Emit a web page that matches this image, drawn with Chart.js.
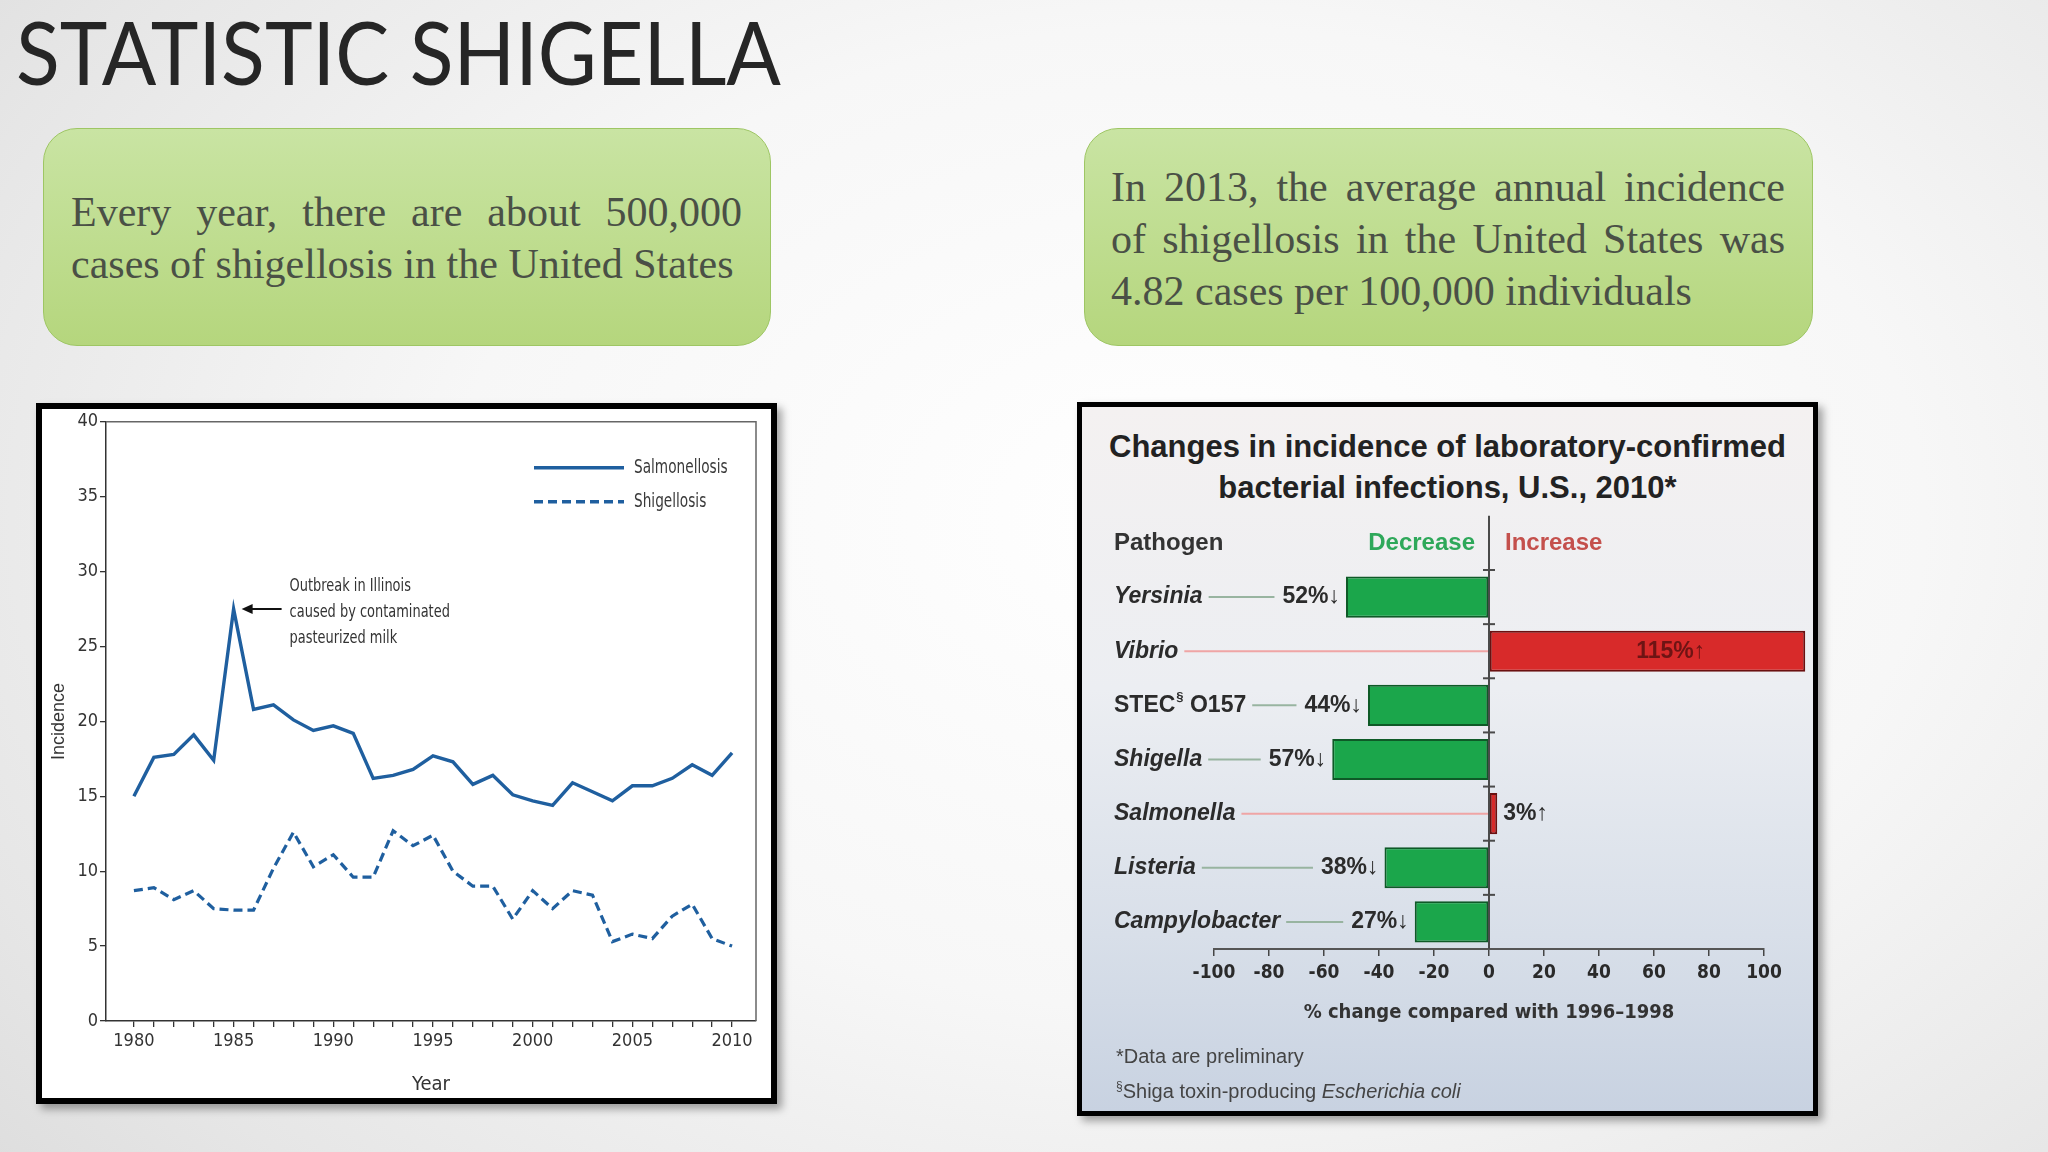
<!DOCTYPE html>
<html>
<head>
<meta charset="utf-8">
<title>Statistic Shigella</title>
<script src="https://cdn.jsdelivr.net/npm/chart.js@4.4.0/dist/chart.umd.min.js"></script>
<style>
  html, body { margin: 0; padding: 0; }
  body {
    width: 2048px; height: 1152px; overflow: hidden; position: relative;
    background: radial-gradient(ellipse 80% 95% at 58% 45%, #ffffff 0%, #f7f7f7 45%, #e6e6e6 80%, #dadada 100%);
  }
  #title {
    position: absolute; left: 16px; top: 8px;
    font: 400 87px Lato, 'Open Sans', sans-serif; line-height: 87px;
    color: #262626; white-space: nowrap; transform-origin: left top;
  }
  .box {
    position: absolute; box-sizing: border-box; border-radius: 34px;
    border: 1.5px solid #9ec664;
    background: linear-gradient(#c9e4a3, #b5d67d);
  }
  .txt {
    position: absolute; font: 42px 'Liberation Serif', 'Times New Roman', serif;
    line-height: 52px; color: #4a5046;
  }
  .txt div { white-space: nowrap; }
  .txt .j { text-align: justify; text-align-last: justify; white-space: normal; }
  .frame {
    position: absolute; box-sizing: border-box; border: 6px solid #000;
    box-shadow: 5px 5px 8px rgba(0,0,0,0.35);
  }
  #leftFrame { left: 36px; top: 403px; width: 741px; height: 701px; background: #fff; }
  #rightFrame {
    left: 1077px; top: 402px; width: 741px; height: 714px; border-width: 5px;
    background: linear-gradient(#f4f1f1 0%, #eceef2 40%, #d8dfe9 75%, #c8d2e1 100%);
  }
  canvas { position: absolute; left: 0; top: 0; }
  #bactTitle {
    position: absolute; left: 0; top: 19px; width: 100%; text-align: center;
    font: bold 31px 'Liberation Sans', Arial, sans-serif; line-height: 41px; color: #222;
  }
  #notes {
    position: absolute; left: 34px; top: 634px;
    font: 20px 'Liberation Sans', sans-serif; line-height: 30px; color: #444;
  }
  #notes sup { font-size: 12px; }
</style>
</head>
<body>
<div id="title">STATISTIC SHIGELLA</div>

<div class="box" style="left:43px; top:128px; width:728px; height:218px;"></div>
<div class="txt" style="left:71px; top:186px; width:671px;">
  <div class="j">Every year, there are about 500,000</div>
  <div>cases of shigellosis in the United States</div>
</div>

<div class="box" style="left:1084px; top:128px; width:729px; height:218px;"></div>
<div class="txt" style="left:1111px; top:161px; width:674px;">
  <div class="j">In 2013, the average annual incidence</div>
  <div class="j">of shigellosis in the United States was</div>
  <div>4.82 cases per 100,000 individuals</div>
</div>

<div class="frame" id="leftFrame">
  <canvas id="incidenceChart" width="729" height="689"></canvas>
</div>

<div class="frame" id="rightFrame">
  <div id="bactTitle">Changes in incidence of laboratory-confirmed<br>bacterial infections, U.S., 2010*</div>
  <canvas id="changeChart" width="731" height="704"></canvas>
  <div id="notes">*Data are preliminary<br><sup>§</sup>Shiga toxin-producing <i>Escherichia coli</i></div>
</div>

<script>
// incidence per 100,000
const years = [1980, 1981, 1982, 1983, 1984, 1985, 1986, 1987, 1988, 1989,
               1990, 1991, 1992, 1993, 1994, 1995, 1996, 1997, 1998, 1999,
               2000, 2001, 2002, 2003, 2004, 2005, 2006, 2007, 2008, 2009, 2010];
const salmonellosis = [15.0, 17.6, 17.8, 19.1, 17.4, 27.5, 20.8, 21.1, 20.1, 19.4,
                       19.7, 19.2, 16.2, 16.4, 16.8, 17.7, 17.3, 15.8, 16.4, 15.1,
                       14.7, 14.4, 15.9, 15.3, 14.7, 15.7, 15.7, 16.2, 17.1, 16.4, 17.9];
const shigellosis = [8.7, 8.9, 8.1, 8.7, 7.5, 7.4, 7.4, 10.2, 12.6, 10.3,
                     11.1, 9.6, 9.6, 12.7, 11.7, 12.4, 10.0, 9.0, 9.0, 6.8,
                     8.7, 7.5, 8.7, 8.4, 5.3, 5.8, 5.5, 7.0, 7.8, 5.5, 5.0];
const yearLabels = [1980, 1985, 1990, 1995, 2000, 2005, 2010];
const incidenceTicks = [0, 5, 10, 15, 20, 25, 30, 35, 40];
const outbreakNote = ['Outbreak in Illinois', 'caused by contaminated', 'pasteurized milk'];

// % change 2010 vs 1996-1998
const pathogens = ['Yersinia', 'Vibrio', 'STEC§ O157', 'Shigella', 'Salmonella', 'Listeria', 'Campylobacter'];
const italicName = [true, true, false, true, true, true, true];
const changePct = [-52, 115, -44, -57, 3, -38, -27];
const changeTicks = [-100, -80, -60, -40, -20, 0, 20, 40, 60, 80, 100];

const NARROW = "'Liberation Sans Narrow', 'DejaVu Sans Condensed', 'Liberation Sans', sans-serif";
const ARIAL = "'Liberation Sans', Arial, sans-serif";
const BLUE = '#1f5f9f';

// fit the slide title to its width
const t = document.getElementById('title');
t.style.transform = 'scaleX(' + (765 / t.getBoundingClientRect().width) + ')';

Chart.defaults.animation = false;

// condensed text, like the narrow face of the original figure
function narrowText(ctx, text, x, y) {
  ctx.save();
  ctx.translate(x, y);
  ctx.scale(0.8, 1);
  ctx.fillText(text, 0, 0);
  ctx.restore();
}

// ---------- left chart ----------
const incidenceDecor = {
  id: 'incidenceDecor',
  afterDatasetsDraw(chart) {
    const {ctx, chartArea, scales: {x, y}} = chart;
    ctx.save();
    // thin frame on top and right
    ctx.strokeStyle = '#666';
    ctx.lineWidth = 1.5;
    ctx.beginPath();
    ctx.moveTo(chartArea.left, chartArea.top);
    ctx.lineTo(chartArea.right, chartArea.top);
    ctx.lineTo(chartArea.right, chartArea.bottom);
    ctx.stroke();

    // legend
    ctx.font = '19px ' + NARROW;
    ctx.textBaseline = 'middle';
    ctx.textAlign = 'left';
    chart.data.datasets.forEach((ds, i) => {
      const ly = chartArea.top + 46 + i * 34;
      ctx.strokeStyle = ds.borderColor;
      ctx.lineWidth = 3.5;
      ctx.setLineDash(ds.borderDash || []);
      ctx.beginPath();
      ctx.moveTo(chartArea.right - 222, ly);
      ctx.lineTo(chartArea.right - 132, ly);
      ctx.stroke();
      ctx.setLineDash([]);
      ctx.fillStyle = '#3a3a3a';
      narrowText(ctx, ds.label, chartArea.right - 122, ly);
    });

    // outbreak annotation
    const peak = salmonellosis.indexOf(Math.max(...salmonellosis));
    const px = x.getPixelForValue(years[peak]);
    const py = y.getPixelForValue(salmonellosis[peak]);
    ctx.strokeStyle = '#111';
    ctx.fillStyle = '#111';
    ctx.lineWidth = 2;
    ctx.beginPath();
    ctx.moveTo(px + 16, py);
    ctx.lineTo(px + 48, py);
    ctx.stroke();
    ctx.beginPath();
    ctx.moveTo(px + 8, py);
    ctx.lineTo(px + 19, py - 5);
    ctx.lineTo(px + 19, py + 5);
    ctx.closePath();
    ctx.fill();
    ctx.fillStyle = '#333';
    ctx.font = '18px ' + NARROW;
    outbreakNote.forEach((line, i) => narrowText(ctx, line, px + 56, py - 23 + i * 26));
    ctx.restore();
  }
};

new Chart(document.getElementById('incidenceChart'), {
  type: 'line',
  data: {
    datasets: [
      {
        label: 'Salmonellosis',
        data: years.map((yr, i) => ({x: yr, y: salmonellosis[i]})),
        borderColor: BLUE, borderWidth: 3.4, pointRadius: 0, tension: 0
      },
      {
        label: 'Shigellosis',
        data: years.map((yr, i) => ({x: yr, y: shigellosis[i]})),
        borderColor: BLUE, borderWidth: 3.2, borderDash: [9, 5], pointRadius: 0, tension: 0
      }
    ]
  },
  options: {
    responsive: false,
    layout: {padding: {top: 12, right: 15, bottom: 0, left: 0}},
    plugins: {legend: {display: false}, tooltip: {enabled: false}},
    scales: {
      x: {
        type: 'linear', min: 1978.6, max: 2011.2,
        afterFit: (s) => { s.height = 77; },
        afterBuildTicks: (s) => {
          s.ticks = s.ticks.filter(tk => tk.value >= years[0] && tk.value <= years[years.length - 1]);
        },
        ticks: {
          stepSize: 1, includeBounds: false, autoSkip: false, maxRotation: 0,
          padding: 4, color: '#333', font: {family: NARROW, size: 18},
          callback: (v) => yearLabels.includes(v) ? String(v) : ''
        },
        grid: {drawOnChartArea: false, tickLength: 6, color: '#333', lineWidth: 1.3},
        border: {color: '#333', width: 1.5},
        title: {display: true, text: 'Year', color: '#333', font: {family: NARROW, size: 20}, padding: {top: 0, bottom: 1}}
      },
      y: {
        min: incidenceTicks[0], max: incidenceTicks[incidenceTicks.length - 1],
        afterFit: (s) => { s.width = 64; },
        afterBuildTicks: (s) => { s.ticks = incidenceTicks.map(v => ({value: v})); },
        ticks: {padding: 2, color: '#333', font: {family: NARROW, size: 18}},
        grid: {drawOnChartArea: false, tickLength: 6, color: '#333', lineWidth: 1.3},
        border: {color: '#333', width: 1.5},
        title: {display: true, text: 'Incidence', color: '#333', font: {family: ARIAL, size: 18}, padding: {top: 6, bottom: 0}}
      }
    }
  },
  plugins: [incidenceDecor]
});

// ---------- right chart ----------
function drawName(ctx, name, italic, x, y) {
  const base = (italic ? 'italic ' : '') + 'bold 23px ' + ARIAL;
  ctx.font = base;
  ctx.textAlign = 'left';
  ctx.fillStyle = '#2b2b2b';
  const parts = name.split('§');
  ctx.fillText(parts[0], x, y);
  let cx = x + ctx.measureText(parts[0]).width;
  if (parts.length > 1) {
    ctx.font = 'bold 13px ' + ARIAL;
    ctx.fillText('§', cx + 1, y - 8);
    cx += ctx.measureText('§').width + 1;
    ctx.font = base;
    ctx.fillText(parts[1], cx, y);
    cx += ctx.measureText(parts[1]).width;
  }
  return cx;
}

const changeDecor = {
  id: 'changeDecor',
  beforeDatasetsDraw(chart) {
    const {ctx, chartArea, scales: {x, y}} = chart;
    const zeroX = x.getPixelForValue(0);
    const nameX = chartArea.left - 100;
    ctx.save();
    ctx.textBaseline = 'middle';
    pathogens.forEach((name, i) => {
      const cy = y.getPixelForValue(i);
      const v = changePct[i];
      const end = x.getPixelForValue(v);
      const nameEnd = drawName(ctx, name, italicName[i], nameX, cy);
      ctx.lineWidth = 2;
      if (v < 0) {
        ctx.font = 'bold 23px ' + ARIAL;
        const lw = ctx.measureText(Math.abs(v) + '%↓').width;
        ctx.strokeStyle = '#98b4a0';
        ctx.beginPath();
        ctx.moveTo(nameEnd + 6, cy);
        ctx.lineTo(end - 6 - lw - 8, cy);
        ctx.stroke();
      } else {
        ctx.strokeStyle = '#efa5a5';
        ctx.beginPath();
        ctx.moveTo(nameEnd + 6, cy);
        ctx.lineTo(zeroX, cy);
        ctx.stroke();
      }
    });
    ctx.restore();
  },
  afterDatasetsDraw(chart) {
    const {ctx, chartArea, scales: {x, y}} = chart;
    const band = y.getPixelForValue(1) - y.getPixelForValue(0);
    const zeroX = x.getPixelForValue(0);
    const nameX = chartArea.left - 100;
    ctx.save();
    // zero line with row marks
    ctx.strokeStyle = '#4a4a4a';
    ctx.lineWidth = 2;
    ctx.beginPath();
    ctx.moveTo(zeroX, chartArea.top - band);
    ctx.lineTo(zeroX, chartArea.bottom);
    ctx.stroke();
    pathogens.forEach((_, i) => {
      const yy = y.getPixelForValue(i - 0.5);
      ctx.beginPath();
      ctx.moveTo(zeroX - 6, yy);
      ctx.lineTo(zeroX + 6, yy);
      ctx.stroke();
    });
    // header row
    const hy = chartArea.top - band / 2;
    ctx.textBaseline = 'middle';
    ctx.font = 'bold 24px ' + ARIAL;
    ctx.textAlign = 'left';
    ctx.fillStyle = '#333';
    ctx.fillText('Pathogen', nameX, hy);
    ctx.textAlign = 'right';
    ctx.fillStyle = '#2ea85a';
    ctx.fillText('Decrease', zeroX - 14, hy);
    ctx.textAlign = 'left';
    ctx.fillStyle = '#c4504c';
    ctx.fillText('Increase', zeroX + 16, hy);
    // value labels
    ctx.font = 'bold 23px ' + ARIAL;
    changePct.forEach((v, i) => {
      const cy = y.getPixelForValue(i);
      const end = x.getPixelForValue(v);
      const label = Math.abs(v) + '%' + (v < 0 ? '↓' : '↑');
      if (v < 0) {
        ctx.textAlign = 'right';
        ctx.fillStyle = '#2b2b2b';
        ctx.fillText(label, end - 6, cy);
      } else if (end - zeroX > 150) {
        ctx.textAlign = 'right';
        ctx.fillStyle = '#6e1414';
        ctx.fillText(label, end - 100, cy);
      } else {
        ctx.textAlign = 'left';
        ctx.fillStyle = '#2b2b2b';
        ctx.fillText(label, end + 6, cy);
      }
    });
    ctx.restore();
  }
};

new Chart(document.getElementById('changeChart'), {
  type: 'bar',
  data: {
    labels: pathogens,
    datasets: [{
      data: changePct,
      backgroundColor: changePct.map(v => v < 0 ? '#1ba64b' : '#d82a2a'),
      borderColor: changePct.map(v => v < 0 ? '#0e5a27' : '#6a1010'),
      borderWidth: 2,
      borderSkipped: false,
      barPercentage: 0.76,
      categoryPercentage: 1,
      clip: false
    }]
  },
  options: {
    indexAxis: 'y',
    responsive: false,
    layout: {padding: {top: 163, right: 49, bottom: 62, left: 132}},
    plugins: {legend: {display: false}, tooltip: {enabled: false}},
    scales: {
      x: {
        min: changeTicks[0], max: changeTicks[changeTicks.length - 1],
        afterFit: (s) => { s.height = 100; },
        afterBuildTicks: (s) => { s.ticks = changeTicks.map(v => ({value: v})); },
        ticks: {padding: 6, color: '#2a2a2a', font: {family: NARROW, size: 19, weight: 'bold'}},
        grid: {drawOnChartArea: false, tickLength: 7, color: '#444', lineWidth: 1.5},
        border: {color: '#555', width: 2},
        title: {
          display: true, text: '% change compared with 1996–1998', color: '#333',
          font: {family: NARROW, size: 20, weight: 'bold'}, padding: {top: 0, bottom: 24}
        }
      },
      y: {display: false}
    }
  },
  plugins: [changeDecor]
});
</script>
</body>
</html>
